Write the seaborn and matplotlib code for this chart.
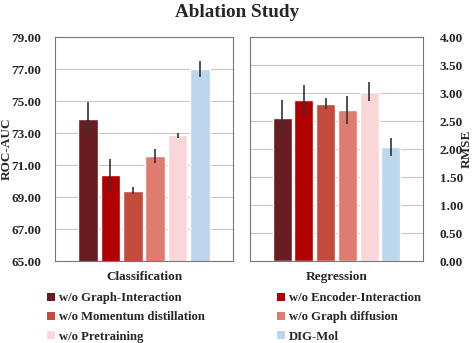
import matplotlib
matplotlib.use("Agg")
import matplotlib.pyplot as plt
import seaborn as sns
import pandas as pd
from matplotlib.patches import Patch

methods = ["w/o Graph-Interaction", "w/o Encoder-Interaction", "w/o Momentum distillation",
           "w/o Graph diffusion", "w/o Pretraining", "DIG-Mol"]
colors = ["#6B1C20", "#B00000", "#C44A3C", "#E07B70", "#FBD6D8", "#BCD6EE"]
cls_mean = [73.85, 70.35, 69.40, 71.55, 72.85, 77.00]
cls_err = [1.10, 1.05, 0.20, 0.45, 0.18, 0.50]
reg_mean = [2.55, 2.88, 2.81, 2.69, 3.02, 2.04]
reg_err = [0.33, 0.27, 0.10, 0.25, 0.17, 0.16]
cls_ticks = [65, 67, 69, 71, 73, 75, 77, 79]
reg_ticks = [0, 0.5, 1.0, 1.5, 2.0, 2.5, 3.0, 3.5, 4.0]

sns.set_theme(style="white")
plt.rcParams['font.family'] = ['Liberation Serif', 'DejaVu Serif']
plt.rcParams['font.weight'] = 'bold'

W, H = 474, 343
fig = plt.figure(figsize=(W / 100, H / 100), dpi=100)
ax1 = fig.add_axes([55 / W, 1 - 261 / H, 178 / W, 224 / H])
ax2 = fig.add_axes([250 / W, 1 - 261 / H, 173 / W, 224 / H])


def draw(ax, task, means, errs, ticks, ylim, fmt):
    df = pd.DataFrame({"task": [task] * len(methods), "method": methods, "value": means})
    sns.barplot(data=df, x="task", y="value", hue="method", hue_order=methods,
                palette=colors, width=0.8, gap=0.12, errorbar=None, legend=False,
                saturation=1, ax=ax)
    bars = [cont[0] for cont in list(ax.containers)]
    for i, bar in enumerate(bars):
        xc = bar.get_x() + bar.get_width() / 2
        ax.errorbar(xc, means[i], yerr=errs[i], fmt="none", ecolor="#333333",
                    elinewidth=1.2, capsize=0, zorder=5)
    ax.set_ylim(*ylim)
    ax.set_xlim(-0.53, 0.53)
    ax.set_yticks(ticks)
    ax.set_yticklabels([fmt.format(t) for t in ticks], fontsize=9.5, fontweight="bold")
    ax.set_xticks([0])
    ax.set_xticklabels([task], fontsize=9.5, fontweight="bold")
    ax.set_xlabel("")
    ax.yaxis.grid(True, color="#c8c8c8", lw=0.8)
    ax.set_axisbelow(True)
    ax.tick_params(axis="both", length=0)
    ax.tick_params(axis="y", pad=10)
    ax.tick_params(axis="x", pad=7)
    for s in ax.spines.values():
        s.set_color("#777777")
        s.set_linewidth(0.8)


draw(ax1, "Classification", cls_mean, cls_err, cls_ticks, (65, 79), "{:.2f}")
draw(ax2, "Regression", reg_mean, reg_err, reg_ticks, (0, 4), "{:.2f}")

ax1.set_ylabel("ROC-AUC", fontsize=9.5, fontweight="bold")
ax1.yaxis.set_label_coords((12.5 - 55) / 178, 0.5)
ax2.yaxis.tick_right()
ax2.yaxis.set_label_position("right")
ax2.set_ylabel("RMSE", fontsize=9.5, fontweight="bold")
ax2.yaxis.set_label_coords((461 - 250) / 173, 0.5)
ax2.tick_params(axis="y", pad=12)

fig.text(0.5, 1 - 12.5 / H, "Ablation Study", ha="center", va="center",
         fontsize=13.8, fontweight="bold")

handles = [Patch(facecolor=c, edgecolor="none") for c in colors]
common = dict(frameon=False, fontsize=9.1, handlelength=0.6, handleheight=0.6,
              handletextpad=0.35, labelspacing=0.58, borderpad=0, borderaxespad=0,
              loc="upper left")
fig.legend([handles[0], handles[2], handles[4]], [methods[0], methods[2], methods[4]],
           bbox_to_anchor=(47 / W, 1 - 292 / H), **common)
fig.legend([handles[1], handles[3], handles[5]], [methods[1], methods[3], methods[5]],
           bbox_to_anchor=(277 / W, 1 - 292 / H), **common)

fig.savefig("out.png", dpi=100)
